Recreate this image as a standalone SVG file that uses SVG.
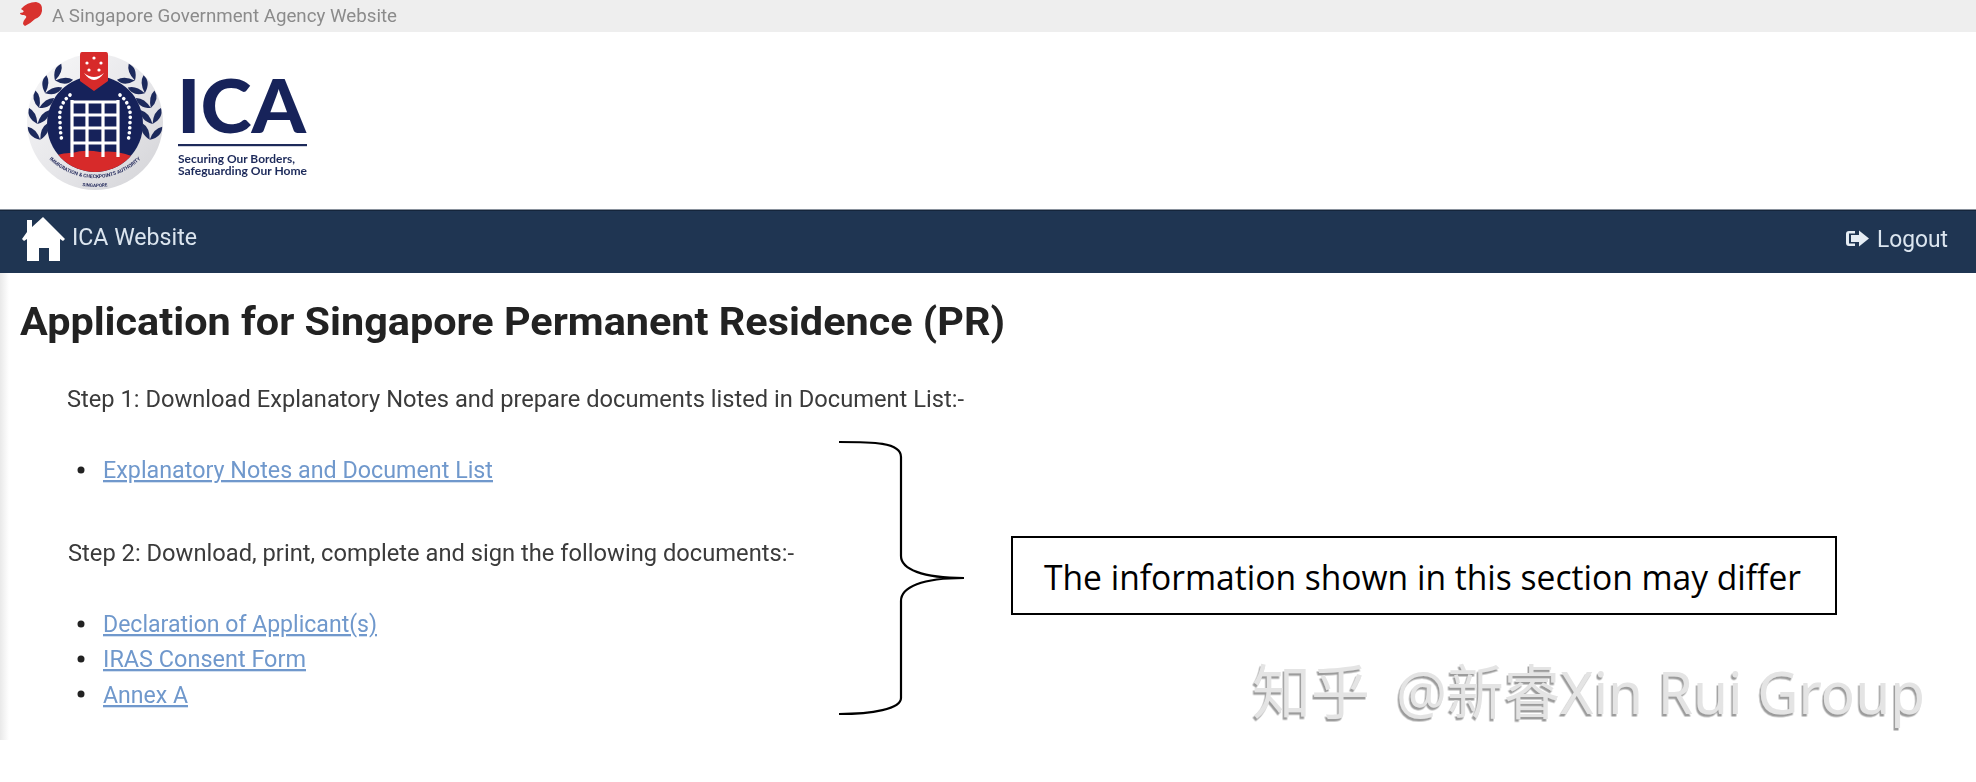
<svg xmlns="http://www.w3.org/2000/svg" xmlns:xlink="http://www.w3.org/1999/xlink" width="1976" height="782" viewBox="0 0 1976 782">
<style>
text{font-family:Roboto,"Liberation Sans",sans-serif}
.step{font-size:23px;fill:#3a3a3a}
.link{font-size:23px;fill:#6f98cc;text-decoration:underline}
.bullet{fill:#222}
.nav{font-size:24px;fill:#dbe5ef}
.leaf{fill:#1f2a5c}
.bar{stroke:#fff;stroke-width:3.2;fill:none}
.chain{stroke:#fff;stroke-width:3.6;stroke-linecap:round;stroke-dasharray:.1 5;fill:none}
.tag{font-family:Lato,"Liberation Sans",sans-serif;font-size:10.6px;font-weight:700;fill:#1d2a5a}
</style>
<defs>
<g id="lf"><path class="leaf" d="M-8 -57Q-3 -69 7 -67Q4 -59 -8 -57ZM-8 -57Q-3 -45 7 -47Q4 -55 -8 -57Z"/></g>
<clipPath id="navyClip"><circle cx="95" cy="124" r="48"/></clipPath>
<linearGradient id="ringG" x1="0" y1="0" x2="1" y2="1"><stop offset="0" stop-color="#f8f8f9"/><stop offset=".55" stop-color="#e6e6e9"/><stop offset="1" stop-color="#d2d2d6"/></linearGradient>
<linearGradient id="edge" x1="0" x2="1" y1="0" y2="0"><stop offset="0" stop-color="#e9e9e9"/><stop offset="1" stop-color="#fff"/></linearGradient>
<filter id="soft" x="-5%" y="-5%" width="110%" height="110%"><feGaussianBlur stdDeviation=".6"/></filter>
<filter id="lite" x="-2%" y="-10%" width="104%" height="120%"><feGaussianBlur stdDeviation=".4"/></filter>
<filter id="emboss" x="-3%" y="-10%" width="106%" height="125%"><feDropShadow dx="-1.5" dy="2.5" stdDeviation=".4" flood-color="#9c9c9c"/></filter>
<path id="arcText" d="M42 150A64 64 0 0 0 148 150"/>
<path id="arcText2" d="M72 184Q95 190 118 184"/>
</defs>
<rect width="1976" height="782" fill="#fff"/>

<g id="top-bar">
<rect width="1976" height="32" fill="#eeeeee"/>
<path filter="url(#soft)" d="M21 9Q27 2 36 2Q43 3 42 11Q41 17 35 19Q31 23 25 26Q21 24 25 19Q28 16 24 15Q20 15 20 13Q27 12 21 9Z" fill="#d8302e"/>
<text x="52" y="22" font-size="19" fill="#8b8b8b" filter="url(#lite)" textLength="345" lengthAdjust="spacingAndGlyphs">A Singapore Government Agency Website</text>
</g>

<g id="ica-logo">
<g id="seal" filter="url(#soft)">
<circle cx="95" cy="122" r="68" fill="url(#ringG)"/>
<circle cx="95" cy="124" r="48" fill="#17235a"/>
<g clip-path="url(#navyClip)">
<path d="M44 162Q58 152 72 153Q85 149 100 152Q120 149 146 162V180H44Z" fill="#d72b2b"/>
</g>
<g id="portcullis">
<path class="bar" d="M72 102H118M72 115H118M72 128H118M72 143H118M72 100V157M87 102V157M103 102V157M118 100V157"/>
</g>
<path class="chain" d="M70 95Q58 105 60 120Q60 132 62 141"/>
<path class="chain" d="M120 95Q132 105 130 120Q130 132 128 141"/>
<g id="laurel">
<use xlink:href="#lf" href="#lf" transform="translate(95 122) rotate(-36)"/>
<use xlink:href="#lf" href="#lf" transform="translate(95 122) rotate(-52)"/>
<use xlink:href="#lf" href="#lf" transform="translate(95 122) rotate(-68)"/>
<use xlink:href="#lf" href="#lf" transform="translate(95 122) rotate(-84)"/>
<use xlink:href="#lf" href="#lf" transform="translate(95 122) rotate(-100)"/>
<use xlink:href="#lf" href="#lf" transform="translate(95 122) scale(-1 1) rotate(-36)"/>
<use xlink:href="#lf" href="#lf" transform="translate(95 122) scale(-1 1) rotate(-52)"/>
<use xlink:href="#lf" href="#lf" transform="translate(95 122) scale(-1 1) rotate(-68)"/>
<use xlink:href="#lf" href="#lf" transform="translate(95 122) scale(-1 1) rotate(-84)"/>
<use xlink:href="#lf" href="#lf" transform="translate(95 122) scale(-1 1) rotate(-100)"/>
</g>
<g id="shield">
<path d="M82 52H106Q108 52 108 55V81L94 91L80 81V55Q80 52 82 52Z" fill="#d72b2b"/>
<g fill="#fff"><circle cx="94" cy="58" r="1.6"/><circle cx="87" cy="63" r="1.6"/><circle cx="101" cy="63" r="1.6"/><circle cx="89" cy="70" r="1.6"/><circle cx="99" cy="70" r="1.6"/>
<path d="M84 73Q94 87 104 73Q94 81 84 73Z"/></g>
</g>
<text font-size="5" font-weight="700" fill="#2a3060"><textPath xlink:href="#arcText" href="#arcText" startOffset="50%" text-anchor="middle">IMMIGRATION &amp; CHECKPOINTS AUTHORITY</textPath></text>
<text font-size="4.6" font-weight="700" fill="#2a3060"><textPath xlink:href="#arcText2" href="#arcText2" startOffset="50%" text-anchor="middle">SINGAPORE</textPath></text>
</g>
<g id="wordmark">
<text x="177" y="133" font-size="75" font-weight="900" fill="#17235a" style="font-family:Lato,'Liberation Sans',sans-serif" textLength="129" lengthAdjust="spacingAndGlyphs">ICA</text>
<rect x="178" y="144" width="129" height="2.2" fill="#1d2a5a"/>
<text class="tag" x="178" y="163" filter="url(#lite)" textLength="117" lengthAdjust="spacingAndGlyphs">Securing Our Borders,</text>
<text class="tag" x="178" y="175" filter="url(#lite)" textLength="129" lengthAdjust="spacingAndGlyphs">Safeguarding Our Home</text>
</g>
</g>

<g id="nav-bar">
<rect y="210" width="1976" height="63" fill="#1f3552"/>
<rect y="209.500" width="1976" height="1.500" fill="#15253b"/>
<path id="home-icon" fill="#fff" d="M43 217L32 227V220H27V232L22 239L24 241L27 239V261H39V248H49V261H60V239L63 241L65 239Z"/>
<text class="nav" x="72" y="245" filter="url(#lite)" textLength="125" lengthAdjust="spacingAndGlyphs">ICA Website</text>
<g id="logout-icon" fill="#e6edf4"><path d="M1855 231H1849Q1846 231 1846 234V243Q1846 246 1849 246H1855V243.500H1849V233.500H1855Z"/><path d="M1851 235H1859V230.500L1869 238.500L1859 246.500V242H1851Z"/></g>
<text class="nav" x="1877" y="247" filter="url(#lite)" textLength="71" lengthAdjust="spacingAndGlyphs">Logout</text>
</g>

<g id="page">
<rect y="273" width="9" height="467" fill="url(#edge)"/>
<text x="20" y="335" font-size="39" font-weight="700" fill="#222" filter="url(#lite)" textLength="985" lengthAdjust="spacingAndGlyphs">Application for Singapore Permanent Residence (PR)</text>
<text class="step" x="67" y="407" filter="url(#lite)" textLength="897" lengthAdjust="spacingAndGlyphs">Step 1: Download Explanatory Notes and prepare documents listed in Document List:-</text>
<circle class="bullet" cx="81" cy="470" r="3.500"/>
<text class="link" x="103" y="478" filter="url(#lite)" textLength="390" lengthAdjust="spacingAndGlyphs">Explanatory Notes and Document List</text>
<text class="step" x="68" y="561" filter="url(#lite)" textLength="726" lengthAdjust="spacingAndGlyphs">Step 2: Download, print, complete and sign the following documents:-</text>
<circle class="bullet" cx="81" cy="624" r="3.500"/>
<text class="link" x="103" y="632" filter="url(#lite)" textLength="274" lengthAdjust="spacingAndGlyphs">Declaration of Applicant(s)</text>
<circle class="bullet" cx="81" cy="659" r="3.500"/>
<text class="link" x="103" y="667" filter="url(#lite)" textLength="203" lengthAdjust="spacingAndGlyphs">IRAS Consent Form</text>
<circle class="bullet" cx="81" cy="694" r="3.500"/>
<text class="link" x="103" y="703" filter="url(#lite)" textLength="85" lengthAdjust="spacingAndGlyphs">Annex A</text>
</g>

<g id="connectors">
<path id="brace" fill="none" stroke="#000" stroke-width="2.200" d="M839 442C872 442 901 442 901 457V556C901 569 922 578 964 578C922 578 901 587 901 601V698C901 709 872 714 839 714"/>
</g>

<g id="note">
<rect x="1012" y="537" width="824" height="77" fill="#fff" stroke="#000" stroke-width="2"/>
<text x="1044" y="590" font-size="34" fill="#000" style="font-family:'Open Sans','Noto Sans',sans-serif" textLength="757" lengthAdjust="spacingAndGlyphs">The information shown in this section may differ</text>
</g>

<g id="watermark">
<text y="714" font-size="59" fill="#e4e4e4" filter="url(#emboss)" style="font-family:'Noto Sans','Noto Sans CJK SC',sans-serif"><tspan x="1252">知乎</tspan><tspan x="1396" textLength="529" lengthAdjust="spacingAndGlyphs">@新睿Xin Rui Group</tspan></text>
</g>
</svg>
